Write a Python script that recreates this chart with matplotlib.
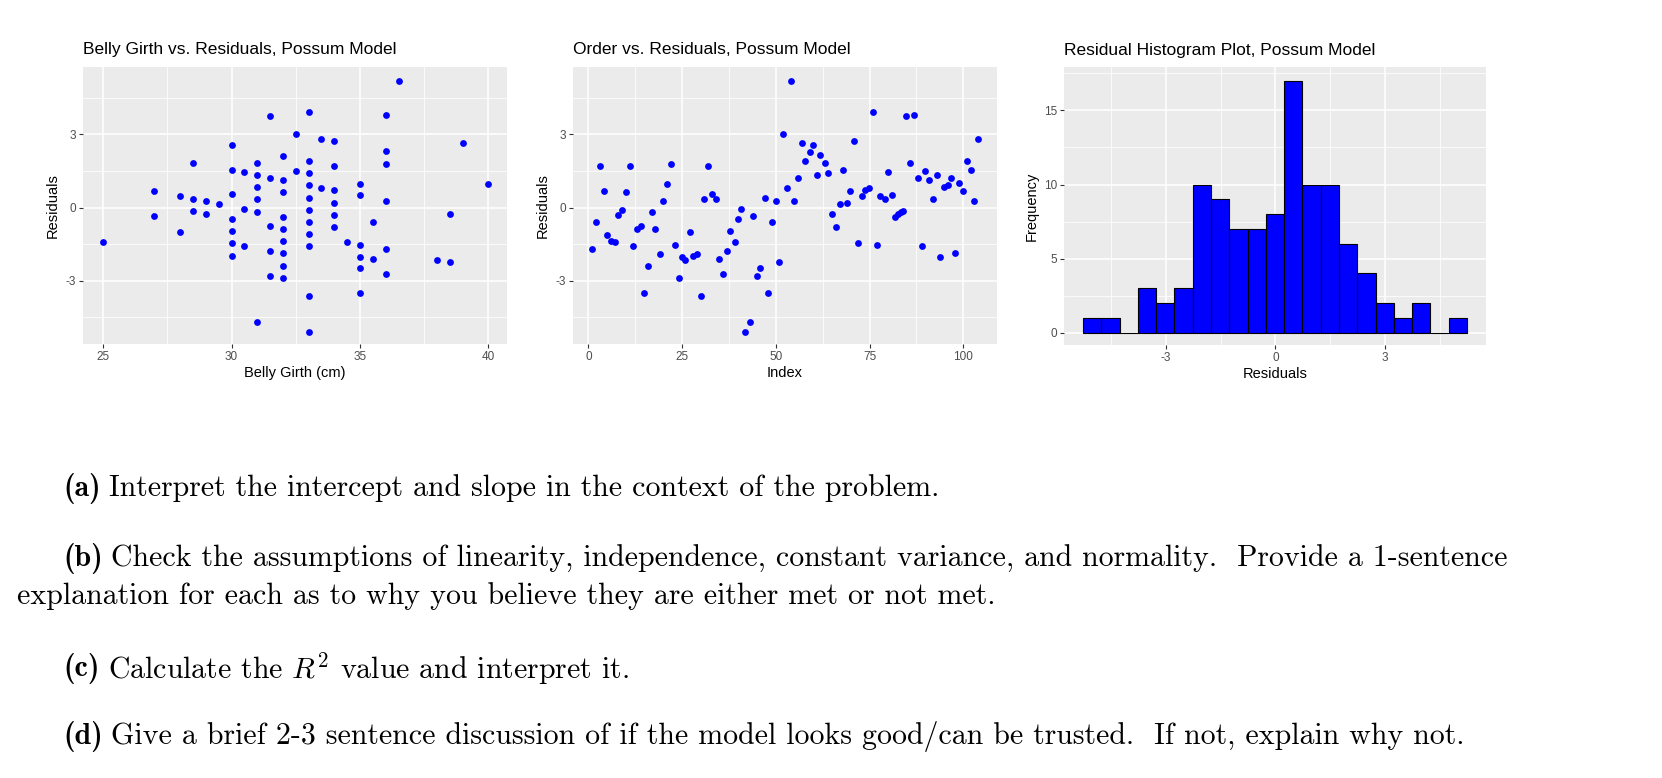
import matplotlib
matplotlib.use("Agg")
import matplotlib.pyplot as plt
import numpy as np

plt.rcParams["mathtext.fontset"] = "cm"

girth = [25, 27, 27, 28, 28, 28.5, 28.5, 28.5, 29, 29, 29.5,
         30, 30, 30, 30, 30, 30, 30, 30.5, 30.5, 30.5,
         31, 31, 31, 31, 31, 31, 31.5, 31.5, 31.5, 31.5, 31.5,
         32, 32, 32, 32, 32, 32, 32, 32, 32, 32.5, 32.5,
         33, 33, 33, 33, 33, 33, 33, 33, 33, 33, 33, 33.5, 33.5,
         34, 34, 34, 34, 34, 34, 34.5, 35, 35, 35, 35, 35, 35, 35.5, 35.5,
         36, 36, 36, 36, 36, 36, 36.5, 38, 38.5, 38.5, 39, 40]
girth_res = [-1.42, 0.66, -0.34, 0.48, -1.02, 1.84, 0.34, -0.15, 0.25, -0.25, 0.14,
             2.55, 1.54, 0.55, -0.48, -0.97, -1.46, -1.98, 1.46, -0.05, -1.57,
             1.84, 1.33, 0.83, 0.36, -0.19, -4.70, 3.74, 1.22, -0.77, -1.78, -2.80,
             2.13, 1.12, 0.63, -0.38, -0.87, -1.38, -1.87, -2.40, -2.90, 3.02, 1.52,
             3.93, 1.91, 1.42, 0.92, 0.41, -0.08, -0.60, -1.09, -1.58, -3.62, -5.12, 2.83, 0.79,
             2.72, 1.71, 0.71, 0.20, -0.31, -0.81, -1.42, 0.98, 0.51, -1.53, -2.01, -2.50, -3.51, -0.60, -2.12,
             3.80, 2.31, 1.78, 0.26, -1.72, -2.73, 5.20, -2.14, -0.25, -2.24, 2.66, 0.96]

order_idx = [1.1, 2.0, 3.0, 4.1, 5.0, 6.0, 7.1, 7.9, 9.0, 10.1, 11.0, 12.0, 13.0, 14.1, 14.9,
             16.0, 17.0, 17.9, 19.0, 20.0, 21.0, 22.0, 23.0, 24.1, 25.0, 25.9, 27.0, 27.9,
             29.0, 30.0, 30.9, 31.9, 33.0, 34.0, 34.9, 35.9, 37.0, 37.9, 39.0, 40.0, 40.8,
             41.9, 43.0, 44.0, 44.9, 45.9, 47.0, 48.0, 49.0, 50.1,
             50.9, 52.0, 52.9, 54.1, 54.9, 56.0, 57.0, 57.9, 59.0, 60.0, 60.9, 61.9, 63.0,
             63.9, 64.9, 66.0, 67.0, 68.0, 69.0, 69.9, 70.9, 71.9, 73.0, 73.9, 74.9, 76.0,
             76.9, 77.9, 79.0, 80.0, 80.9, 81.9, 82.7, 83.3, 83.9, 84.8, 85.9, 86.9, 87.9,
             89.0, 89.9, 90.8, 91.9, 93.0, 93.9, 94.8, 95.8, 96.8, 97.9, 98.9, 100.0,
             100.9, 102.0, 102.8, 103.9]
order_res = [-1.72, -0.60, 1.71, 0.70, -1.11, -1.38, -1.42, -0.31, -0.08, 0.63, 1.71, -1.58,
             -0.87, -0.75, -3.51, -2.40, -0.19, -0.87, -1.89, 0.27, 0.96, 1.78, -1.53, -2.90,
             -2.01, -2.14, -1.02, -1.98, -1.89, -3.62, 0.34, 1.71, 0.55, 0.34, -2.12, -2.73,
             -1.79, -0.97, -1.43, -0.48, -0.05, -5.12, -4.70, -0.34, -2.80, -2.50, 0.41, -3.51,
             -0.60, 0.27,
             -2.24, 3.02, 0.79, 5.20, 0.27, 1.22, 2.66, 1.91, 2.30, 2.57, 1.33, 2.14, 1.84,
             1.41, -0.25, -0.81, 0.14, 1.56, 0.20, 0.70, 2.72, -1.46, 0.46, 0.71, 0.79, 3.93,
             -1.53, 0.46, 0.34, 1.45, 0.51, -0.38, -0.25, -0.19, -0.15, 3.74, 1.84, 3.80, 1.22,
             -1.58, 1.52, 1.12, 0.34, 1.33, -2.01, 0.83, 0.92, 1.23, -1.87, 1.00, 0.67,
             1.91, 1.54, 0.25, 2.83]

hist_counts = [1, 1, 0, 3, 2, 3, 10, 9, 7, 7, 8, 17, 10, 10, 6, 4, 2, 1, 2, 0, 1]
hist_start = -5.27
hist_width = 0.501

W, H = 1662, 778
fig = plt.figure(figsize=(W / 100, H / 100), dpi=100)
SANS = "Liberation Sans"

def ax_at(l, t, r, b):
    return fig.add_axes([l / W, 1 - b / H, (r - l) / W, (b - t) / H])

def gg(ax, xmaj, xmin, ymaj, ymin, xlab, ylab, title, ylabels=None):
    ax.set_facecolor("#EBEBEB")
    for s in ax.spines.values():
        s.set_visible(False)
    ax.set_xticks(xmaj)
    ax.set_xticks(xmin, minor=True)
    ax.set_yticks(ymaj)
    ax.set_yticks(ymin, minor=True)
    if ylabels:
        ax.set_yticklabels(ylabels)
    ax.grid(which="major", color="white", lw=1.1)
    ax.grid(which="minor", color="white", lw=0.55)
    ax.set_axisbelow(True)
    ax.tick_params(which="major", length=3, color="#333333", labelcolor="#4D4D4D",
                   labelsize=8.5, width=0.8, pad=2)
    ax.tick_params(which="minor", length=0)
    for lab in ax.get_xticklabels() + ax.get_yticklabels():
        lab.set_fontfamily(SANS)
    ax.set_xlabel(xlab, fontsize=10.5, fontfamily=SANS, labelpad=2)
    ax.set_ylabel(ylab, fontsize=10.5, fontfamily=SANS, labelpad=4)
    ax.set_title(title, fontsize=12.5, fontfamily=SANS, loc="left", pad=9)

a1 = ax_at(83, 67, 507, 344)
a1.scatter(girth, girth_res, s=24, color="#0000FF", zorder=3, linewidths=0)
a1.set_xlim(24.22, 40.72)
a1.set_ylim(-5.60, 5.77)
gg(a1, [25, 30, 35, 40], [27.5, 32.5, 37.5], [-3, 0, 3], [-4.5, -1.5, 1.5, 4.5],
   "Belly Girth (cm)", "Residuals", "Belly Girth vs. Residuals, Possum Model",
   ["-3", "0", "3"])

a2 = ax_at(573, 67, 997, 344)
a2.scatter(order_idx, order_res, s=24, color="#0000FF", zorder=3, linewidths=0)
a2.set_xlim(-4.1, 109.0)
a2.set_ylim(-5.60, 5.77)
gg(a2, [0, 25, 50, 75, 100], [12.5, 37.5, 62.5, 87.5], [-3, 0, 3], [-4.5, -1.5, 1.5, 4.5],
   "Index", "Residuals", "Order vs. Residuals, Possum Model", ["-3", "0", "3"])

a3 = ax_at(1064, 67, 1486, 345)
edges = hist_start + hist_width * np.arange(len(hist_counts))
a3.bar(edges, hist_counts, width=hist_width, align="edge", color="#0000FF",
       edgecolor="black", linewidth=0.8, zorder=3)
a3.set_xlim(-5.79, 5.77)
a3.set_ylim(-0.83, 17.93)
gg(a3, [-3, 0, 3], [-4.5, -1.5, 1.5, 4.5], [0, 5, 10, 15], [2.5, 7.5, 12.5, 17.5],
   "Residuals", "Frequency", "Residual Histogram Plot, Possum Model", None)
a3.set_xticklabels(["-3", "0", "3"])

RM, BF = "cmr10", "cmb10"
FS = 21.5

def line(x, y, bold, rest):
    t = fig.text(x / W, 1 - y / H, bold, fontfamily=BF, fontsize=FS, va="center")
    fig.canvas.draw()
    bb = t.get_window_extent()
    fig.text((bb.x1 + 8) / W, 1 - y / H, rest, fontfamily=RM, fontsize=FS, va="center")

line(63, 488, "(a)", "Interpret the intercept and slope in the context of the problem.")
line(63, 559, "(b)", "Check the assumptions of linearity, independence, constant variance, and normality.  Provide a 1-sentence")
fig.text(17 / W, 1 - 596 / H, "explanation for each as to why you believe they are either met or not met.",
         fontfamily=RM, fontsize=FS, va="center")
line(63, 669, "(c)", "Calculate the $R^2$ value and interpret it.")
line(63, 737, "(d)", "Give a brief 2-3 sentence discussion of if the model looks good/can be trusted.  If not, explain why not.")

fig.savefig("out.png", dpi=100)
